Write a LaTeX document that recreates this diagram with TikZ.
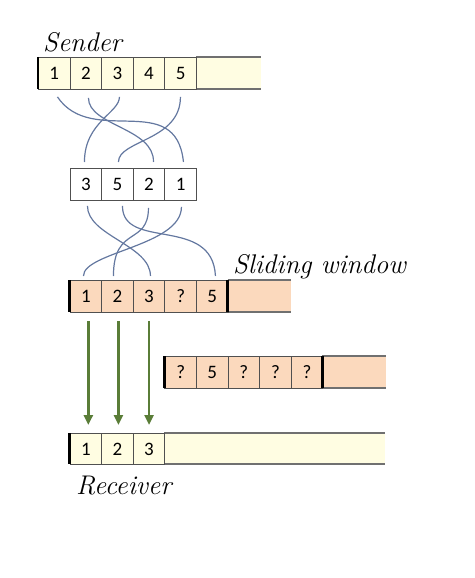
\documentclass[tikz,border=0pt]{standalone}
\usepackage{fontspec}
\newfontfamily\cellfont{Carlito}
\usetikzlibrary{arrows.meta}
\definecolor{ylw}{HTML}{FFFDE2}
\definecolor{peach}{HTML}{FBD9BD}
\definecolor{cellborder}{HTML}{505050}
\definecolor{barline}{HTML}{707070}
\definecolor{curvecol}{HTML}{6478A0}
\definecolor{arrowgreen}{HTML}{5A7D38}
\begin{document}
\begin{tikzpicture}[x=1pt,y=-1pt,
  cell/.style={draw=cellborder, line width=0.9pt, minimum width=31.6pt, minimum height=32pt,
    inner sep=0pt, anchor=north west, font=\cellfont\fontsize{19}{19}\selectfont},
  barstyle/.style={draw=barline, line width=1.1pt},
  thickbar/.style={draw=black, line width=2.4pt},
  curve/.style={draw=curvecol, line width=1.2pt},
  garrow/.style={draw=arrowgreen, line width=2.6pt, -{Triangle[width=9pt,length=10pt]}},
  lbl/.style={font=\itshape\fontsize{27}{30}\selectfont, anchor=base west, inner sep=0pt}]
\useasboundingbox (0,0) rectangle (474,578);

% Sender row
\fill[ylw] (196,57) rectangle (261,89);
\draw[barstyle] (196,57) -- (261,57);
\draw[barstyle] (196,89) -- (261,89);
\foreach \t [count=\i] in {1,2,3,4,5}
  \node[cell,fill=ylw] (s\i) at ({38+31.6*(\i-1)},57) {\t};
\draw[thickbar] (38,57) -- (38,89);
\node[lbl] (sender) at (43,52) {Sender};

% Middle row
\foreach \t [count=\i] in {3,5,2,1}
  \node[cell,fill=white] (m\i) at ({38+31.6*\i},168) {\t};

% Sliding window row
\fill[peach] (227.6,280) rectangle (291,312);
\draw[barstyle] (227.6,280) -- (291,280);
\draw[barstyle] (227.6,312) -- (291,312);
\foreach \t [count=\i] in {1,2,3,?,5}
  \node[cell,fill=peach] (w\i) at ({38+31.6*\i},280) {\t};
\draw[thickbar] (69.6,280) -- (69.6,312);
\draw[thickbar] (227.6,280) -- (227.6,312);
\node[lbl] (slide) at (233,273) {Sliding window};

% Second window row
\fill[peach] (322.4,356) rectangle (386,388);
\draw[barstyle] (322.4,356) -- (386,356);
\draw[barstyle] (322.4,388) -- (386,388);
\foreach \t [count=\i] in {?,5,?,?,?}
  \node[cell,fill=peach] (r\i) at ({38+31.6*(\i+3)},356) {\t};
\draw[thickbar] (164.4,356) -- (164.4,388);
\draw[thickbar] (322.4,356) -- (322.4,388);

% Receiver row
\fill[ylw] (164.4,433) rectangle (385,464);
\draw[barstyle] (164.4,433) -- (385,433);
\draw[barstyle] (164.4,464) -- (385,464);
\foreach \t [count=\i] in {1,2,3}
  \node[cell,fill=ylw,minimum height=31pt] (v\i) at ({38+31.6*\i},433) {\t};
\draw[thickbar] (69.6,433) -- (69.6,464);
\node[lbl] (receiver) at (76,494) {Receiver};

% Curves sender -> middle
\draw[curve] ([xshift=3.2pt,yshift=-7pt]s1.south) .. controls +(34.5,51) and +(-7.5,-73) .. ([xshift=2.8pt,yshift=6pt]m4.north);
\draw[curve] ([xshift=2.6pt,yshift=-8pt]s2.south) .. controls +(0,28) and +(1,-34) .. ([xshift=4.4pt,yshift=6pt]m3.north);
\draw[curve] ([xshift=2pt,yshift=-7pt]s3.south) .. controls +(0,16) and +(0,-40) .. ([xshift=-1.4pt,yshift=6pt]m1.north);
\draw[curve] ([xshift=-0.2pt,yshift=-7pt]s5.south) .. controls +(0,44) and +(0,-22) .. ([xshift=1pt,yshift=6pt]m2.north);

% Curves middle -> window
\draw[curve] ([xshift=1.6pt,yshift=-5pt]m1.south) .. controls +(0,30) and +(0,-31) .. ([xshift=1.4pt,yshift=4pt]w3.north);
\draw[curve] ([xshift=5pt,yshift=-5pt]m2.south) .. controls +(0,45) and +(-3,-61) .. ([xshift=3.2pt,yshift=4pt]w5.north);
\draw[curve] ([xshift=-0.6pt,yshift=-7pt]m3.south) .. controls +(0,38) and +(0,-51) .. ([xshift=-4pt,yshift=4pt]w2.north);
\draw[curve] ([xshift=0.8pt,yshift=-6pt]m4.south) .. controls +(0,39) and +(0,-24) .. ([xshift=-2.4pt,yshift=4pt]w1.north);

% Green arrows
\draw[garrow] ([xshift=2.5pt,yshift=-8pt]w1.south) -- ([xshift=2.5pt,yshift=8pt]v1.north);
\draw[garrow] ([xshift=1pt,yshift=-8pt]w2.south) -- ([xshift=1pt,yshift=8pt]v2.north);
\draw[garrow] ([xshift=0pt,yshift=-8pt]w3.south) -- ([xshift=0pt,yshift=8pt]v3.north);
\end{tikzpicture}
\end{document}
